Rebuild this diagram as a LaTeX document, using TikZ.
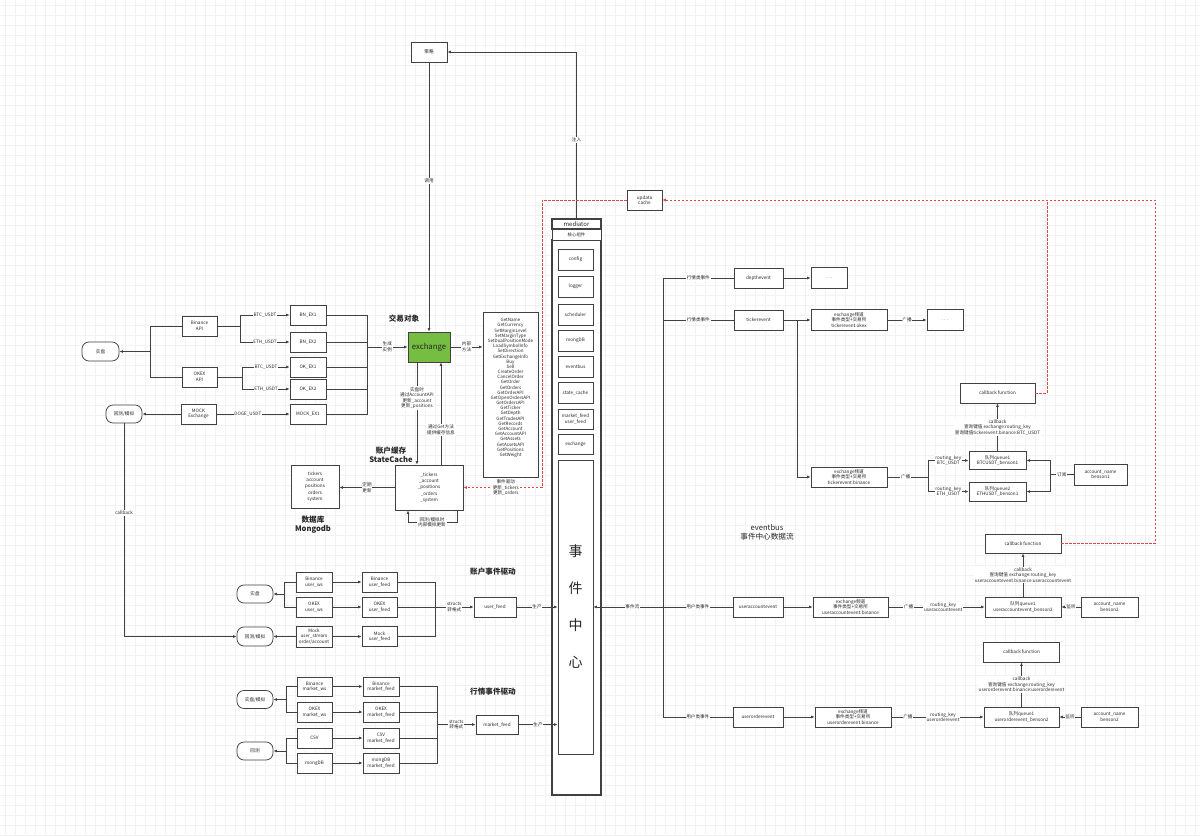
\documentclass[tikz,border=0pt]{standalone}
\usepackage{fontspec}
\setmainfont{Noto Sans CJK SC}
\usetikzlibrary{arrows.meta}
\definecolor{exg}{RGB}{118,190,66}
\definecolor{lnc}{RGB}{65,65,65}
\definecolor{rd}{RGB}{225,70,70}
\newcommand\fsz[2]{\fontsize{#1}{#2}\selectfont}
\begin{document}
\begin{tikzpicture}[x=1pt,y=-1pt,
  every node/.style={text=black!85},
  sz/.style 2 args={minimum width=#1,minimum height=#2},
  ln/.style={draw=lnc, line width=0.7pt},
  arr/.style={ln, -{Latex[length=3.4pt,width=2.8pt]}},
  bx/.style={draw=lnc, line width=0.75pt, fill=white, align=center, font=\fsz{4.6}{5.6}, inner sep=0pt},
  rbx/.style={bx, rounded corners=7pt},
  lbl/.style={fill=white, inner sep=0.8pt, align=center, font=\fsz{4.6}{5.6}},
  ttl/.style={align=center, font=\fsz{7.6}{9.2}\bfseries},
  rdash/.style={draw=rd, line width=0.6pt, dash pattern=on 2.5pt off 1.5pt},
  rarr/.style={rdash, -{Latex[length=3.4pt,width=2.8pt]}}
]
\fill[white] (0,0) rectangle (1200,836);
\useasboundingbox (0,0) rectangle (1200,836);
\foreach \i in {5,15,...,1195} \draw[black!5, line width=0.3pt] (\i,0) -- (\i,836);
\foreach \j in {5,15,...,835} \draw[black!5, line width=0.3pt] (0,\j) -- (1200,\j);

% ---------- top ----------
\node[bx, sz={36}{20}] (strat) at (429,52) {策略};
\node[bx, sz={35}{20}] (upd) at (644.5,200) {updata\\cache};

% ---------- left: exchanges ----------
\node[rbx, sz={37}{19}] (live1) at (100.5,351.5) {实盘};
\node[bx, sz={35}{20}] (binapi) at (199.5,326) {Binance\\API};
\node[bx, sz={35}{20}] (okapi) at (199.5,377) {OKEX\\API};
\node[bx, sz={35}{20}] (mockx) at (198.5,414) {MOCK\\Exchange};
\node[rbx, sz={36}{18}] (bt1) at (124,414) {回测/模拟};
\node[bx, sz={36}{20}] (bnex1) at (308,315) {BN\_EX1};
\node[bx, sz={36}{20}] (bnex2) at (308,342) {BN\_EX2};
\node[bx, sz={36}{20}] (okex1) at (308,367) {OK\_EX1};
\node[bx, sz={36}{20}] (okex2) at (308,389) {OK\_EX2};
\node[bx, sz={36}{20}] (mockex1) at (308,414) {MOCK\_EX1};

\node[bx, fill=exg, sz={42}{30}, font=\fsz{7.8}{9}] (exch) at (429,347) {exchange};
\node[ttl] (tlex) at (404,319) {交易对象};
\node[bx, sz={55}{165}, font=\fsz{4.5}{5.18}] (meth) at (510.5,394.5) {GetName\\GetCurrency\\SetMarginLevel\\SetMarginType\\SetDualPositionMode\\LoadSymbolInfo\\SetDirection\\GetExchangeInfo\\Buy\\Sell\\CreateOrder\\CancelOrder\\GetOrder\\GetOrders\\GetOrderAPI\\GetOpenOrdersAPI\\GetOrdersAPI\\GetTicker\\GetDepth\\GetTradesAPI\\GetRecords\\GetAccount\\GetAccountAPI\\GetAssets\\GetAssetsAPI\\GetPositions\\GetWeight\\[9pt]\mbox{}};

\node[bx, sz={68}{45}, font=\fsz{4.6}{6.3}] (sc) at (429,487.5) {\_tickers\\\_account\\\_positions\\\_orders\\\_system};
\node[ttl] (tlsc) at (391,455) {账户缓存\\StateCache};
\node[bx, sz={48}{43}, font=\fsz{4.6}{6.3}] (db) at (315,486.5) {tickers\\account\\positions\\orders\\system};
\node[ttl] (tldb) at (313,525) {数据库\\Mongodb};

% ---------- mediator ----------
\node[bx, line width=1.1pt, sz={49}{555}] (medb) at (576.5,517.5) {};
\node[bx, line width=1.1pt, sz={49}{10}, font=\fsz{6}{7}] (medt) at (576.5,224) {mediator};
\node[bx, sz={49}{11}, font=\fsz{4.4}{5}] (meds) at (576.5,234.5) {核心组件};
\node[bx, sz={35}{21}] (mconfig) at (575.5,259.5) {config};
\node[bx, sz={35}{21}] (mlogger) at (575.5,286.5) {logger};
\node[bx, sz={35}{21}] (msched) at (575.5,314.5) {scheduler};
\node[bx, sz={35}{21}] (mmongo) at (575.5,340.5) {mongDB};
\node[bx, sz={35}{21}] (mevbus) at (575.5,366.5) {eventbus};
\node[bx, sz={35}{21}] (mstate) at (575.5,392.5) {state\_cache};
\node[bx, sz={35}{20}] (mfeed) at (575.5,419) {market\_feed\\user\_feed};
\node[bx, sz={35}{20}] (mexch) at (575.5,444) {exchange};
\node[bx, sz={35}{294}, font=\fsz{14}{37}] (evc) at (575.5,607) {事\\件\\中\\心};

% ---------- right: eventbus ----------
\node[bx, sz={49}{20}] (depth) at (758.5,278) {depthevent};
\node[bx, sz={36}{21}] (dots1) at (829,278) {. . .};
\node[bx, sz={49}{20}] (tick) at (758.5,320) {tickerevent};
\node[bx, sz={76}{21}] (chok) at (849,320) {exchange频道\\事件类型+交易所\\tickerevent.okex};
\node[bx, sz={36}{21}] (dots2) at (945,320) {. . .};
\node[bx, sz={76}{20}] (chbn) at (849,477) {exchange频道\\事件类型+交易所\\tickerevent.binance};
\node[bx, sz={57}{18}] (q1) at (997.5,460.5) {队列queue1\\BTCUSDT\_benson1};
\node[bx, sz={57}{19}] (q2) at (997.5,491.5) {队列queue2\\ETHUSDT\_benson1};
\node[bx, sz={75}{20}] (cb1) at (997.5,393) {callback function};
\node[bx, sz={53}{21}] (acc1) at (1100.5,474.5) {account\_name\\benson1};
\node[align=center, font=\fsz{7.6}{9.2}] (tleb) at (767,532) {eventbus\\事件中心数据流};

\node[bx, sz={50}{20}] (uae) at (758,607) {useraccountevent};
\node[bx, sz={75}{20}] (chua) at (850.5,607) {exchange频道\\事件类型+交易所\\useraccountevent.binance};
\node[bx, sz={76}{20}] (qua) at (1023,607) {队列queue1\\useraccountevent\_benson2};
\node[bx, sz={57}{20}] (acc2) at (1109.5,607) {account\_name\\benson2};
\node[bx, sz={76}{19}] (cb2) at (1023,543.5) {callback function};

\node[bx, sz={50}{20}] (uoe) at (758,717) {userorderevent};
\node[bx, sz={76}{20}] (chuo) at (853,717) {exchange频道\\事件类型+交易所\\userorderevent.binance};
\node[bx, sz={75}{20}] (quo) at (1021.5,717) {队列queue1\\userorderevent\_benson2};
\node[bx, sz={57}{20}] (acc3) at (1109.5,717) {account\_name\\benson2};
\node[bx, sz={76}{20}] (cb3) at (1021.5,652) {callback function};

% ---------- bottom-left: user feeds ----------
\node[rbx, sz={36}{18}] (live2) at (255,594) {实盘};
\node[rbx, sz={36}{19}] (bt2) at (255,636.5) {回测/模拟};
\node[bx, sz={36}{20}] (binuws) at (314,582) {Binance\\user\_ws};
\node[bx, sz={36}{20}] (okuws) at (314,607) {OKEX\\user\_ws};
\node[bx, sz={36}{21}] (mockuws) at (314,636.5) {Mock\\user\_stream\\order/account};
\node[bx, sz={35}{20}] (binuf) at (379.5,582) {Binance\\user\_feed};
\node[bx, sz={35}{20}] (okuf) at (379.5,607) {OKEX\\user\_feed};
\node[bx, sz={35}{20}] (mockuf) at (379.5,636.5) {Mock\\user\_feed};
\node[bx, sz={42}{20}] (uf) at (495,607) {user\_feed};
\node[ttl] (tlua) at (493,572) {账户事件驱动};

% ---------- bottom-left: market feeds ----------
\node[rbx, sz={36}{18}] (live3) at (255,699.5) {实盘/模拟};
\node[rbx, sz={36}{18}] (bt3) at (255,751) {回测};
\node[bx, sz={35}{19}] (binmws) at (314.5,686.5) {Binance\\market\_ws};
\node[bx, sz={35}{20}] (okmws) at (314.5,712) {OKEX\\market\_ws};
\node[bx, sz={35}{20}] (csv) at (314.5,738) {CSV};
\node[bx, sz={35}{20}] (mongo) at (314.5,763) {mongDB};
\node[bx, sz={36}{19}] (binmf) at (381,686.5) {Binance\\market\_feed};
\node[bx, sz={36}{20}] (okmf) at (381,712) {OKEX\\market\_feed};
\node[bx, sz={36}{20}] (csvmf) at (381,738) {CSV\\market\_feed};
\node[bx, sz={36}{20}] (mongomf) at (381,763) {mongDB\\market\_feed};
\node[bx, sz={42}{19}] (mf) at (497,724.5) {market\_feed};
\node[ttl] (tlmk) at (493,692) {行情事件驱动};

% ================= connectors =================
\draw[arr] (strat) -- (exch) node[lbl, pos=0.44]{调用};
\draw[arr] (medt.north) |- (strat.east) node[lbl, pos=0.235]{注入};

% red dashed cache updates
\coordinate (rtop) at (1155,200);
\coordinate (rmid) at (1047,200);
\coordinate (rleft) at (542,200);
\draw[rarr] (cb2.east) -| (rtop) -- (upd.east);
\draw[rdash] (cb1.east) -- (cb1.east -| rmid) -- (rmid);
\draw[rarr] (upd.west) -- (rleft) |- (sc.east) node[lbl, pos=0.73]{事件驱动\\更新\_tickers\\更新\_orders};

% left exchanges
\coordinate (j1) at (150,351.5);
\draw[ln] (binapi.west) -| (j1);
\draw[ln] (okapi.west) -| (j1);
\draw[arr] (j1) -- (live1.east);
\draw[arr] (binapi.east) -- ++(23,0) |- (bnex1.west) node[lbl,pos=0.75]{BTC\_USDT};
\draw[arr] (binapi.east) -- ++(23,0) |- (bnex2.west) node[lbl,pos=0.75]{ETH\_USDT};
\draw[arr] (okapi.east) -- ++(25,0) |- (okex1.west) node[lbl,pos=0.75]{BTC\_USDT};
\draw[arr] (okapi.east) -- ++(25,0) |- (okex2.west) node[lbl,pos=0.75]{ETH\_USDT};
\draw[arr] (mockx.east) -- (mockex1.west) node[lbl,pos=0.43]{DOGE\_USDT};
\draw[arr] (mockx.west) -- (bt1.east);

\coordinate (j3) at (367,347);
\foreach \n in {bnex1,bnex2,okex1,okex2,mockex1} \draw[ln] (\n.east) -| (j3);
\draw[arr] (j3) -- (exch.west) node[lbl,midway]{生成\\实例};
\draw[arr] (exch.east) -- (exch.east -| meth.west) node[lbl,midway]{内部\\方法};
\draw[arr] ([xshift=-12pt]exch.south) -- ([xshift=-12pt]sc.north) node[lbl,pos=0.35]{实盘时\\通过AccountAPI\\更新\_account\\更新\_positions};
\draw[arr] ([xshift=12pt]sc.north) -- ([xshift=12pt]exch.south) node[lbl,pos=0.34]{通过Get方法\\提供缓存信息};
\draw[arr] (sc.west) -- (sc.west -| db.east) node[lbl,midway]{定期\\更新};
\draw[arr] ([xshift=28pt]sc.south) -- ++(0,12) -| ([xshift=-21pt]sc.south) node[lbl,pos=0.255]{回测/模拟时\\内部模拟更新};
\draw[arr] (bt1.south) |- (bt2.west) node[lbl,pos=0.21]{callback};

% user feeds
\coordinate (j4) at (284,594);
\draw[ln] (binuws.west) -| (j4);
\draw[ln] (okuws.west) -| (j4);
\draw[arr] (j4) -- (live2.east);
\draw[arr] (mockuws.west) -- (bt2.east);
\draw[arr] (binuws) -- (binuf);
\draw[arr] (okuws) -- (okuf);
\draw[arr] (mockuws) -- (mockuf);
\coordinate (j5) at (435,607);
\foreach \n in {binuf,okuf,mockuf} \draw[ln] (\n.east) -| (j5);
\draw[arr] (j5) -- (uf.west) node[lbl,midway]{structs\\转格式};
\draw[arr] (uf.east) -- (uf.east -| evc.west) node[lbl,midway]{生产};

% market feeds
\coordinate (j6) at (286,699.5);
\draw[ln] (binmws.west) -| (j6);
\draw[ln] (okmws.west) -| (j6);
\draw[arr] (j6) -- (live3.east);
\coordinate (j7) at (286,751);
\draw[ln] (csv.west) -| (j7);
\draw[ln] (mongo.west) -| (j7);
\draw[arr] (j7) -- (bt3.east);
\draw[arr] (binmws) -- (binmf);
\draw[arr] (okmws) -- (okmf);
\draw[arr] (csv) -- (csvmf);
\draw[arr] (mongo) -- (mongomf);
\coordinate (j8) at (437,724.5);
\foreach \n in {binmf,okmf,csvmf,mongomf} \draw[ln] (\n.east) -| (j8);
\draw[arr] (j8) -- (mf.west) node[lbl,midway]{structs\\转格式};
\draw[arr] (mf.east) -- (mf.east -| evc.west) node[lbl,midway]{生产};

% eventbus trunk
\coordinate (tr1) at (663,278);
\coordinate (tr2) at (663,717);
\draw[ln, line width=0.9pt] (tr1) -- (tr2);
\draw[ln] (tr1) -- (depth.west) node[lbl,midway]{行情类事件};
\draw[ln] (tick.west -| tr1) -- (tick.west) node[lbl,midway]{行情类事件};
\draw[ln] (uae.west -| tr1) -- (uae.west) node[lbl,midway]{用户类事件};
\draw[ln] (tr2) -- (uoe.west) node[lbl,midway]{用户类事件};
\draw[arr] (uae.west -| tr1) -- (uae.west -| evc.east) node[lbl,pos=0.44]{事件流};

\draw[arr] (depth) -- (dots1);
\draw[arr] (tick) -- (chok);
\draw[arr] (tick.east) -- ++(14,0) |- (chbn.west);
\draw[arr] (chok) -- (dots2) node[lbl,midway]{广播};
\coordinate (j9) at (928,477);
\draw[ln] (chbn.east) -- (j9) node[lbl,pos=0.45]{广播};
\draw[arr] (j9) |- (q1.west) node[lbl,pos=0.75]{routing\_key\\BTC\_USDT};
\draw[arr] (j9) |- (q2.west) node[lbl,pos=0.75]{routing\_key\\ETH\_USDT};
\draw[arr] (q1) -- (cb1) node[lbl,midway]{callback\\查询键值 exchange:routing\_key\\查询键值tickerevent.binance:BTC\_USDT};
\coordinate (j10) at (1050,474.5);
\draw[ln] (acc1.west) -- (j10) node[lbl,midway]{订阅};
\draw[arr] (j10) |- (q1.east);
\draw[arr] (j10) |- (q2.east);

\draw[arr] (uae) -- (chua);
\draw[arr] (chua.east) -- (qua.west) node[lbl,pos=0.21]{广播} node[lbl,pos=0.57]{routing\_key\\useraccountevent};
\draw[arr] (acc2) -- (qua) node[lbl,midway]{监听};
\draw[arr] (qua) -- (cb2) node[lbl,midway]{callback\\查询键值 exchange:routing\_key\\useraccountevent.binance:useraccountevent};

\draw[arr] (uoe) -- (chuo);
\draw[arr] (chuo.east) -- (quo.west) node[lbl,pos=0.18]{广播} node[lbl,pos=0.56]{routing\_key\\userorderevent};
\draw[arr] (acc3) -- (quo) node[lbl,midway]{监听};
\draw[arr] (quo) -- (cb3) node[lbl,midway]{callback\\查询键值 exchange:routing\_key\\userorderevent.binance:userorderevent};
\end{tikzpicture}
\end{document}
